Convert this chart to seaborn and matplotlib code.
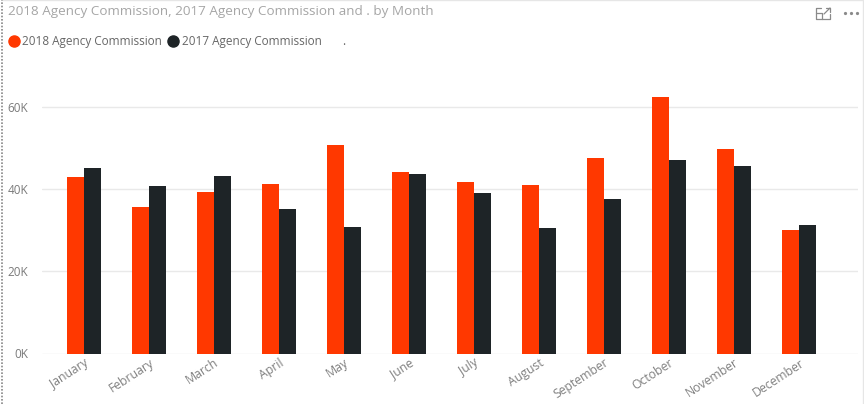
import pandas as pd
import matplotlib
matplotlib.use("Agg")
import matplotlib.pyplot as plt
from matplotlib.lines import Line2D
from matplotlib.ticker import FuncFormatter
import seaborn as sns

months = ['January', 'February', 'March', 'April', 'May', 'June',
          'July', 'August', 'September', 'October', 'November', 'December']
commission_2018 = [42800, 35500, 39300, 41200, 50600, 44100,
                   41600, 41000, 47600, 62300, 49600, 30000]
commission_2017 = [45200, 40600, 43100, 35100, 30800, 43600,
                   38900, 30400, 37500, 47000, 45600, 31200]
series_names = ['2018 Agency Commission', '2017 Agency Commission']
y_ticks = [0, 20000, 40000, 60000]

df = pd.DataFrame({
    'month': months * 2,
    'value': commission_2018 + commission_2017,
    'series': [series_names[0]] * 12 + [series_names[1]] * 12,
})

sns.set_theme(style="white")
plt.rcParams['font.family'] = ['Open Sans', 'DejaVu Sans']

palette = {series_names[0]: '#FF3800', series_names[1]: '#1E2427'}

W, H = 864, 404
fig = plt.figure(figsize=(W / 100, H / 100), dpi=100)
ax = fig.add_axes([0.0486, 0.125, 0.944, 0.662])

sns.barplot(data=df, x='month', y='value', hue='series', order=months,
            hue_order=series_names, palette=palette, width=0.52,
            linewidth=0, saturation=1, ax=ax)
ax.get_legend().remove()

ax.set_xlim(-0.646, 11.9)
ax.set_ylim(0, 65000)
ax.set_yticks(y_ticks)
ax.yaxis.set_major_formatter(FuncFormatter(lambda v, p: f"{int(v / 1000)}K"))
ax.grid(axis='y', color='#e9e9e9', linewidth=1)
ax.set_axisbelow(True)
for s in ax.spines.values():
    s.set_visible(False)
ax.set_xlabel('')
ax.set_ylabel('')
ax.tick_params(axis='y', colors='#7a7a7a', labelsize=8.5, length=0, pad=10)
ax.tick_params(axis='x', colors='#808080', labelsize=8.8, length=0, pad=2)
plt.setp(ax.get_xticklabels(), rotation=33, ha='right', rotation_mode='anchor')

# title and legend in Power BI style
fig.text(0.0093, 0.972, "2018 Agency Commission, 2017 Agency Commission and . by Month",
         fontsize=9.7, color='#a6a6a6', va='center', ha='left')
legend_y = 0.8985
for cx, tx, name in [(0.0162, 0.0255, series_names[0]), (0.2, 0.2106, series_names[1])]:
    fig.add_artist(Line2D([cx], [legend_y], marker='o', markersize=8, linestyle='',
                          color=palette[name], transform=fig.transFigure))
    fig.text(tx, legend_y, name, fontsize=8.5, color='#666666', va='center', ha='left')
fig.text(0.396, legend_y, '.', fontsize=8.5, color='#666666', va='center', ha='left')


def px_line(xs, ys, **kw):
    # helper: line given in pixel coords measured from the top-left corner
    fig.add_artist(Line2D([x / W for x in xs], [1 - y / H for y in ys],
                          transform=fig.transFigure, **kw))


# focus-mode icon (no font has it, so drawn as lines)
icon = dict(color='#8a8a8a', linewidth=0.9)
px_line([821, 816, 816, 830, 830], [8, 8, 19, 19, 14], **icon)
px_line([816, 822, 822], [13, 13, 19], **icon)
px_line([824, 830], [14, 8], **icon)
px_line([826, 830, 830], [8, 8, 12], **icon)
# "more options" dots
fig.add_artist(Line2D([845 / W, 851 / W, 857 / W], [1 - 13 / H] * 3, marker='o',
                      markersize=1.3, linestyle='', color='#8a8a8a',
                      transform=fig.transFigure))

# frame borders
fig.add_artist(Line2D([0.002, 0.002], [0, 1], color='#888888', linewidth=1.2,
                      linestyle=(0, (1, 1)), transform=fig.transFigure))
fig.add_artist(Line2D([0.003, 1], [0.999, 0.999], color='#e6e6e6', linewidth=1,
                      transform=fig.transFigure))
fig.add_artist(Line2D([0.999, 0.999], [0, 1], color='#e6e6e6', linewidth=1,
                      transform=fig.transFigure))

fig.savefig('out.png', dpi=100)
